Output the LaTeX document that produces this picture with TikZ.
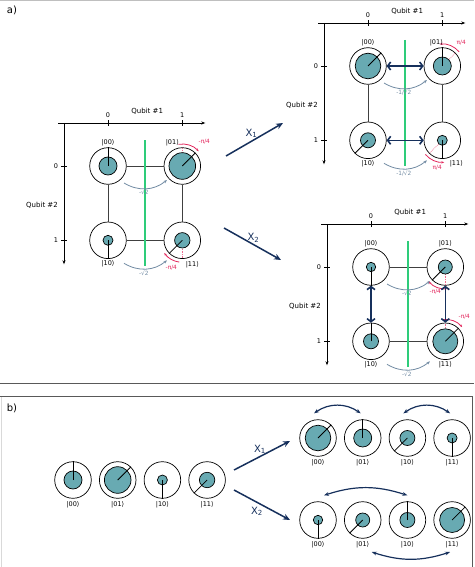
\documentclass[tikz,border=0pt]{standalone}
\usepackage{fontspec}
\setmainfont{DejaVu Sans}
\usetikzlibrary{arrows.meta, positioning, calc}
\definecolor{qteal}{RGB}{104,170,178}
\definecolor{qgreen}{RGB}{46,204,122}
\definecolor{qnavy}{RGB}{22,48,92}
\definecolor{qflow}{RGB}{112,138,162}
\definecolor{qred}{RGB}{226,38,92}
\definecolor{qpink}{RGB}{238,110,145}
\newcommand{\negroot}{-√2}
\newcommand{\neghalfroot}{-1/√2}
\tikzset{
    ring/.style = {circle, draw, line width=0.7pt, minimum size=36.6pt, inner sep=0pt},
    amp/.style = {circle, draw, line width=0.7pt, fill=qteal, minimum size=#1, inner sep=0pt},
    phase/.style = {line width=0.8pt},
    refline/.style = {qpink, line width=0.7pt, densely dotted},
    turn/.style = {qred, line width=0.8pt, -{Stealth[length=3pt]}},
    turnlab/.style = {text=qred, font=\fontsize{5.8}{6}\selectfont, inner sep=0.5pt},
    link/.style = {black!75, line width=0.9pt},
    split/.style = {qgreen, line width=1.5pt},
    flow/.style = {qflow, line width=0.8pt, -{Stealth[length=3.5pt]}},
    flowlab/.style = {text=qflow, font=\fontsize{5.8}{6}\selectfont, inner sep=1pt},
    swap/.style = {qnavy, line width=1.6pt, {Straight Barb[length=3pt,width=8pt]}-{Straight Barb[length=3pt,width=8pt]}},
    hop/.style = {qnavy, line width=1.2pt, {Stealth[length=5pt]}-{Stealth[length=5pt]}},
    gate/.style = {qnavy, line width=1.5pt, -{Stealth[length=7pt, width=6pt]}},
    gatelab/.style = {text=qnavy, font=\fontsize{10}{12}\selectfont, inner sep=1pt},
    axis/.style = {line width=0.8pt, -{Stealth[length=4pt, width=3pt]}},
    ket/.style = {font=\fontsize{6.5}{7}\selectfont, inner sep=1pt},
    tick/.style = {font=\fontsize{6.5}{7}\selectfont, inner sep=1pt},
    axlab/.style = {font=\fontsize{7}{8}\selectfont, inner sep=1pt},
    panel/.style = {font=\fontsize{10}{12}\selectfont, inner sep=0pt}
}

\begin{document}
\begin{tikzpicture}[x=1pt, y=1pt, node distance=37pt and 37pt]
  \useasboundingbox (0,0) rectangle (474,-567);

  % panel frames
  \draw[black!25, line width=1.5pt] (0,-0.75) -- (474,-0.75);
  \draw[black!65, line width=1pt] (0,-383) -- (474,-383);
  \draw[black!65, line width=1pt] (0,-396.5) -- (472,-396.5) -- (472,-567);
  \draw[black!15, line width=1pt] (1.5,-397) -- (1.5,-567);
  \node[panel] (pa) at (12,-10) {a)};
  \node[panel] (pb) at (12,-408) {b)};

  % the three state grids with their axes
  \foreach \g/\ox/\oy in {L/108/166, T/368/66, B/371/267} {
    \node[ring] (\g00) at (\ox,-\oy) {};
    \node[ring, right=of \g00] (\g01) {};
    \node[ring, below=of \g00] (\g10) {};
    \node[ring, right=of \g10] (\g11) {};
    \draw[axis] ($(\g00)+(-50,43)$) -- ($(\g01)+(23,43)$);
    \draw[axis] ($(\g00)+(-44,43)$) -- ($(\g10)+(-44,-24)$);
    \draw[line width=0.6pt] ($(\g00)+(0,40)$) -- ++(0,6) ($(\g01)+(0,40)$) -- ++(0,6)
      ($(\g00)+(-47,0)$) -- ++(6,0) ($(\g10)+(-47,0)$) -- ++(6,0);
    \node[tick] (\g h0) at ($(\g00)+(0,51)$) {0};
    \node[tick] (\g h1) at ($(\g01)+(0,51)$) {1};
    \node[tick] (\g v0) at ($(\g00)+(-52,0)$) {0};
    \node[tick] (\g v1) at ($(\g10)+(-52,0)$) {1};
    \node[axlab] (\g q1) at ($(\g00)!.5!(\g01)+(2,55)$) {Qubit \#1};
    \node[axlab] (\g q2) at ($(\g00)+(-66,-39)$) {Qubit \#2};
  }

  % links and swaps between grid states
  \draw[link] (L00) -- (L01) (L00) -- (L10) (L01) -- (L11) (L10) -- (L11);
  \draw[link] (T00) -- (T10) (T01) -- (T11);
  \draw[link] (B00) -- (B01) (B10) -- (B11);
  \foreach \g in {L, T, B}
    \draw[split] ($(\g00)!.5!(\g01)+(0,26)$) -- ($(\g10)!.5!(\g11)+(0,-26)$);

  % the rows of panel b
  \foreach \rw/\ox/\oy in {P/73/480, X/318/438, Y/318/520} {
    \node[ring] (\rw00) at (\ox,-\oy) {};
    \node[ring, right=7.4pt of \rw00] (\rw01) {};
    \node[ring, right=7.4pt of \rw01] (\rw10) {};
    \node[ring, right=7.4pt of \rw10] (\rw11) {};
    \foreach \st in {00,01,10,11}
      \node[ket, below=1.5pt of \rw\st] (\rw\st k) {|\st⟩};
  }

  % reference phase lines
  \foreach \n/\ang in {L01/90, L11/270, T01/45, T11/225, B01/270, B11/90}
    \draw[refline] (\n.center) -- (\n.\ang);

  % amplitudes and phases
  \foreach \n/\dia/\ang in {L00/18/90, L01/26.6/45, L10/10/270, L11/15.4/225,
                            P00/18/90, P01/26.6/45, P10/10/270, P11/15.4/225,
                            T00/25.6/45, T01/18/90, T10/15/225, T11/10/270,
                            X00/25.6/45, X01/18/90, X10/15/225, X11/10/270,
                            B00/9.4/270, B01/14/225, B10/15/90, B11/25/45,
                            Y00/9.4/270, Y01/14/225, Y10/15/90, Y11/25/45} {
    \node[amp=\dia pt] (\n a) at (\n) {};
    \draw[phase] (\n.center) -- (\n.\ang);
  }

  % phase turns
  \foreach \n/\sa/\ea in {L01/100/42, L11/262/215, T01/40/97, T11/220/275, B01/278/220, B11/98/40}
    \draw[turn] ($(\n)+(\sa:22)$) arc[start angle=\sa, end angle=\ea, radius=22];
  \node[turnlab] (L01t) at ($(L01)+(22,24)$) {-π/4};
  \node[turnlab] (L11t) at ($(L11)+(-11,-27)$) {-π/4};
  \node[turnlab] (T01t) at ($(T01)+(19,23)$) {π/4};
  \node[turnlab] (T11t) at ($(T11)+(-5,-27)$) {π/4};
  \node[turnlab] (B01t) at ($(B01)+(-10,-25)$) {-π/4};
  \node[turnlab] (B11t) at ($(B11)+(19,25)$) {-π/4};

  % grid labels
  \node[ket, above=0pt of L00] (L00k) {|00⟩};
  \node[ket, above=0pt of L01, xshift=-10pt] (L01k) {|01⟩};
  \node[ket, below=0pt of L10] (L10k) {|10⟩};
  \node[ket, below=1pt of L11, xshift=10pt] (L11k) {|11⟩};
  \node[ket, above=0pt of T00] (T00k) {|00⟩};
  \node[ket, above=0pt of T01, xshift=-6pt] (T01k) {|01⟩};
  \node[ket, below=0pt of T10] (T10k) {|10⟩};
  \node[ket, below=0pt of T11, xshift=14pt] (T11k) {|11⟩};
  \node[ket, above=0pt of B00] (B00k) {|00⟩};
  \node[ket, above=0pt of B01] (B01k) {|01⟩};
  \node[ket, below=0pt of B10] (B10k) {|10⟩};
  \node[ket, below=0pt of B11] (B11k) {|11⟩};

  % amplitude flow
  \foreach \g/\w in {L/\negroot, T/\neghalfroot, B/\negroot} {
    \draw[flow] ($(\g00)+(16,-17)$) to[bend right=35] node[flowlab, below, pos=.45] (\g fa) {\w} ($(\g00)+(59,-14)$);
    \draw[flow] ($(\g10)+(16,-23)$) to[bend right=35] node[flowlab, below, pos=.45] (\g fb) {\w} ($(\g10)+(59,-20)$);
  }

  % swaps
  \draw[swap] (T00) -- (T01);
  \draw[swap] (T10) -- (T11);
  \draw[swap] (B00) -- (B10);
  \draw[swap] (B01) -- (B11);
  \draw[hop] ($(X00.north)+(-4,6)$) to[bend left=35] ($(X01.north)+(-2,6)$);
  \draw[hop] ($(X10.north)+(-4,6)$) to[bend left=35] ($(X11.north)+(-2,6)$);
  \draw[hop] ($(Y00.north)+(6,6)$) to[bend left=18] ($(Y10.north)+(0,6)$);
  \draw[hop] ($(Y01)+(9,-32)$) to[bend right=18] ($(Y11)+(-2,-32)$);

  % gates
  \coordinate (a1s) at (226,-156);
  \coordinate (a1e) at (283,-123);
  \coordinate (a2s) at (224,-228);
  \coordinate (a2e) at (281,-260);
  \coordinate (b1s) at (234,-470);
  \coordinate (b1e) at (290,-441);
  \coordinate (b2s) at (234,-490);
  \coordinate (b2e) at (290,-520);
  \draw[gate] (a1s) -- node[gatelab, above, xshift=-3pt] (a1l) {X\textsubscript{1}} (a1e);
  \draw[gate] (a2s) -- node[gatelab, above, xshift=1pt] (a2l) {X\textsubscript{2}} (a2e);
  \draw[gate] (b1s) -- node[gatelab, above, xshift=-2pt] (b1l) {X\textsubscript{1}} (b1e);
  \draw[gate] (b2s) -- node[gatelab, below, xshift=-5pt] (b2l) {X\textsubscript{2}} (b2e);
\end{tikzpicture}
\end{document}
